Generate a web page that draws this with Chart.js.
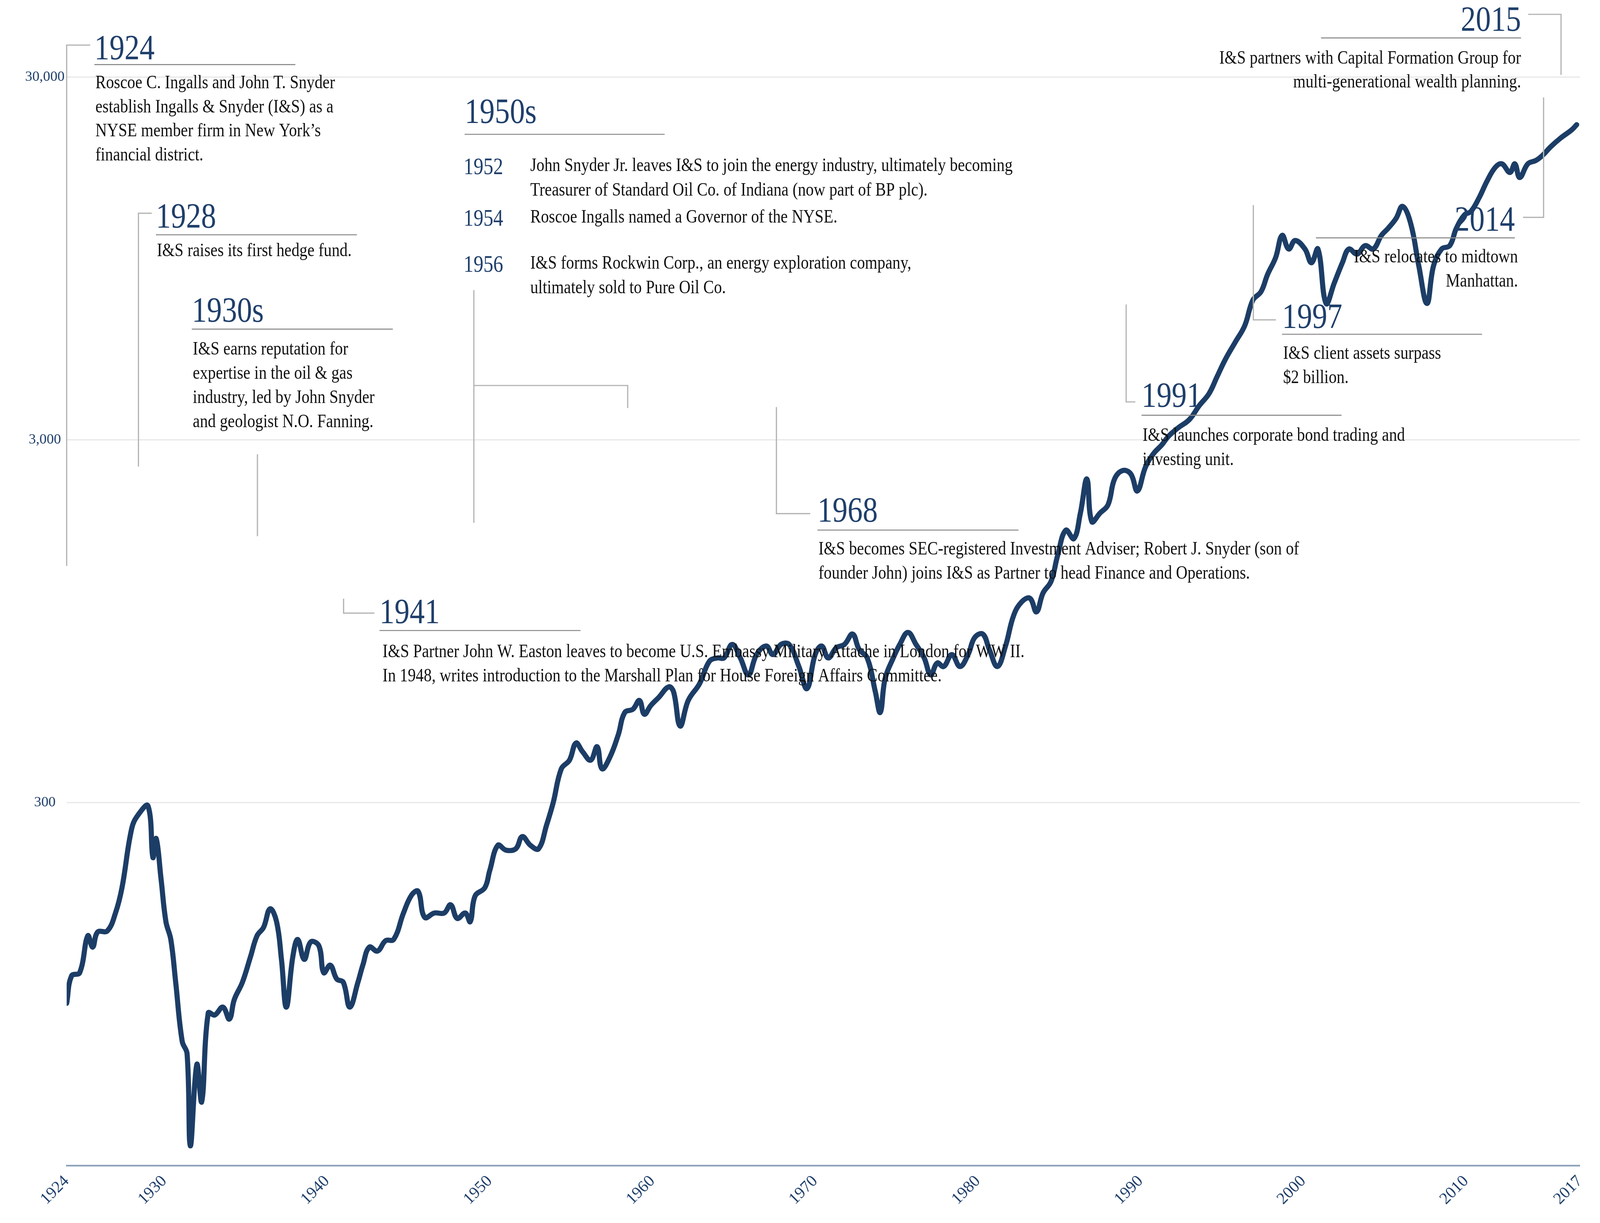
<!DOCTYPE html>
<html>
<head>
<meta charset="utf-8">
<script src="https://cdn.jsdelivr.net/npm/chart.js@4.4.1/dist/chart.umd.min.js"></script>
<style>
html,body{margin:0;padding:0;background:#fff;overflow:hidden;}
#wrap{width:100vw;height:100vh;position:relative;}
</style>
</head>
<body>
<div id="wrap"><canvas id="c"></canvas></div>
<script>
// ---- data ----
var years = [1924.0,1924.3,1924.8,1925.3,1925.6,1925.9,1926.5,1927.0,1927.4,1928.0,1928.4,1929.0,1929.3,1929.5,1929.8,
 1930.1,1930.4,1930.7,1931.1,1931.4,1931.6,1932.0,1932.3,1932.7,1933.1,1933.6,1934.0,1934.3,1934.8,1935.3,1935.7,
 1936.1,1936.5,1936.9,1937.2,1937.5,1937.9,1938.2,1938.6,1939.0,1939.5,1939.8,1940.2,1940.6,1941.0,1941.4,1941.9,
 1942.2,1942.6,1943.1,1943.6,1944.1,1944.7,1945.2,1945.6,1946.0,1946.6,1947.2,1947.6,1948.0,1948.5,1948.8,1949.1,
 1949.7,1950.0,1950.5,1951.0,1951.6,1952.0,1952.5,1953.0,1953.5,1953.9,1954.4,1954.9,1955.3,1955.7,1956.2,1956.6,
 1956.9,1957.4,1957.9,1958.3,1958.8,1959.2,1959.5,1959.9,1960.4,1961.0,1961.3,1961.7,1962.2,1962.9,1963.5,1964.0,
 1964.4,1964.9,1965.4,1965.9,1966.4,1967.0,1967.4,1967.9,1968.4,1969.0,1969.5,1970.0,1970.4,1970.8,1971.3,1971.8,
 1972.3,1972.7,1973.2,1973.7,1974.0,1974.3,1974.8,1975.2,1975.7,1976.2,1976.7,1977.1,1977.5,1977.9,1978.4,1978.9,
 1979.4,1979.8,1980.3,1980.7,1981.2,1981.7,1982.2,1982.7,1983.2,1983.6,1984.0,1984.5,1984.9,1985.4,1985.9,1986.3,
 1986.7,1987.0,1987.5,1988.0,1988.4,1988.9,1989.4,1989.8,1990.3,1990.8,1991.3,1991.7,1992.3,1993.0,1993.6,1994.2,
 1994.7,1995.2,1995.8,1996.4,1996.9,1997.4,1997.8,1998.3,1998.7,1999.1,1999.5,2000.1,2000.5,2000.9,2001.4,2001.9,
 2002.4,2002.8,2003.3,2003.8,2004.3,2004.8,2005.2,2005.7,2006.1,2006.6,2007.1,2007.6,2008.0,2008.5,2009.0,2009.4,
 2009.9,2010.3,2010.8,2011.3,2011.8,2012.2,2012.7,2013.0,2013.3,2013.8,2014.3,2014.7,2015.2,2015.8,2016.5,2016.8];
var values = [84,100,102,129,120,132,133,149,175,255,278,294,212,239,185,
 141,126,96,66,61,34,57,45,79,78,82,76,86,96,113,129,
 136,153,141,111,82,113,126,111,124,121,102,107,98,96,82,96,
 107,120,117,125,126,149,167,171,145,149,149,157,144,149,141,166,
 175,195,229,222,224,242,229,224,261,300,372,393,438,415,393,428,
 372,402,462,532,543,574,526,556,586,626,606,488,574,639,736,752,
 752,819,752,675,768,811,768,819,819,712,619,768,811,752,802,819,
 875,794,752,606,532,660,752,819,884,819,752,675,728,712,768,712,
 768,855,875,794,712,811,985,1074,1098,1007,1134,1223,1439,1691,1603,1884,
 2340,1786,1884,1988,2340,2469,2416,2169,2524,2751,2904,3064,3235,3413,3725,4019,
 4479,4990,5560,6193,7282,7680,8560,9540,10980,10070,10630,10070,9230,10070,7130,8110,
 9230,10070,9750,10290,10070,10980,11470,12230,13200,11840,9040,7130,9040,10070,10290,11470,
 12500,12780,13930,15520,16910,17290,16370,17290,15850,17290,17670,18240,19260,20340,21460,22170];
var xTicks = [1924,1930,1940,1950,1960,1970,1980,1990,2000,2010,2017];
var yTicks = [300,3000,30000];

// ---- layout: the picture was measured at 1560px wide ----
var K = window.innerWidth/1560;
var NAVY = '#1f3f6b', LINE = '#1c3d66', LEAD = '#b5b5b5', RULE = '#8a8a8a';
var SERIF = '"Liberation Serif", "DejaVu Serif", serif';

// annotation blocks: header, header position, rule, leader path, body lines
var notes = [
  {h:'1924', x:92, y:58, rule:[92,288,63], lead:[[65,552],[65,44],[88,44]], body:[93,86,
    ['Roscoe C. Ingalls and John T. Snyder','establish Ingalls & Snyder (I&S) as a','NYSE member firm in New York\u2019s','financial district.']]},
  {h:'1928', x:152, y:222, rule:[152,348,229], lead:[[135,455],[135,208],[148,208]], body:[153,250,
    ['I&S raises its first hedge fund.']]},
  {h:'1930s', x:187, y:314, rule:[187,383,321], lead:[[251,443],[251,523]], body:[188,346,
    ['I&S earns reputation for','expertise in the oil & gas','industry, led by John Snyder','and geologist N.O. Fanning.']]},
  {h:'1950s', x:453, y:120, rule:[453,648,131], lead:[[462,510],[462,283]], body:[517,166,[]]},
  {h:'', x:0, y:0, lead:[[462,376],[612,376],[612,398]], body:[0,0,[]]},
  {h:'1941', x:370, y:608, rule:[370,566,615], lead:[[335,584],[335,598],[365,598]], body:[373,641,
    ['I&S Partner John W. Easton leaves to become U.S. Embassy Military Attache in London for WW II.',
     'In 1948, writes introduction to the Marshall Plan for House Foreign Affairs Committee.']]},
  {h:'1968', x:797, y:509, rule:[797,993,517], lead:[[757,397],[757,501],[790,501]], body:[798,541,
    ['I&S becomes SEC-registered Investment Adviser; Robert J. Snyder (son of',
     'founder John) joins I&S as Partner to head Finance and Operations.']]},
  {h:'1991', x:1113, y:397, rule:[1113,1308,405], lead:[[1098,297],[1098,392],[1107,392]], body:[1114,430,
    ['I&S launches corporate bond trading and','investing unit.']]},
  {h:'1997', x:1250, y:320, rule:[1250,1445,326], lead:[[1222,200],[1222,312],[1244,312]], body:[1251,350,
    ['I&S client assets surpass','$2 billion.']]},
  {h:'2014', x:1477, y:225, right:true, rule:[1283,1477,232], lead:[[1505,95],[1505,212],[1485,212]], body:[1480,256,
    ['I&S relocates to midtown','Manhattan.']]},
  {h:'2015', x:1483, y:30, right:true, rule:[1288,1483,37], lead:[[1490,14],[1522,14],[1522,73]], body:[1483,62,
    ['I&S partners with Capital Formation Group for','multi-generational wealth planning.']]}
];
var fifties = [
  ['1952',170,['John Snyder Jr. leaves I&S to join the energy industry, ultimately becoming','Treasurer of Standard Oil Co. of Indiana (now part of BP plc).']],
  ['1954',220,['Roscoe Ingalls named a Governor of the NYSE.']],
  ['1956',265,['I&S forms Rockwin Corp., an energy exploration company,','ultimately sold to Pure Oil Co.']]
];

function txt(ctx, s, x, y, size, color, right){
    ctx.save();
    ctx.translate(x*K, y*K);
    ctx.scale(0.84, 1);
    ctx.font = (size*K) + 'px ' + SERIF;
    ctx.fillStyle = color;
    ctx.textAlign = right ? 'right' : 'left';
    ctx.textBaseline = 'alphabetic';
    ctx.fillText(s, 0, 0);
    ctx.restore();
}

var notesPlugin = {
    id: 'notes',
    afterDraw: function(chart){
        var ctx = chart.ctx;
        notes.forEach(function(n){
            ctx.save();
            ctx.strokeStyle = LEAD;
            ctx.lineWidth = 1.2*K;
            ctx.beginPath();
            n.lead.forEach(function(p, i){
                if(i == 0) ctx.moveTo(p[0]*K, p[1]*K); else ctx.lineTo(p[0]*K, p[1]*K);
            });
            ctx.stroke();
            if(n.rule){
                ctx.strokeStyle = RULE;
                ctx.lineWidth = 1*K;
                ctx.beginPath();
                ctx.moveTo(n.rule[0]*K, n.rule[2]*K);
                ctx.lineTo(n.rule[1]*K, n.rule[2]*K);
                ctx.stroke();
            }
            ctx.restore();
            if(n.h) txt(ctx, n.h, n.x, n.y, 35, NAVY, n.right);
            n.body[2].forEach(function(s, i){
                txt(ctx, s, n.body[0], n.body[1] + i*23.5, 18.5, '#111', n.right);
            });
        });
        fifties.forEach(function(f){
            txt(ctx, f[0], 452, f[1], 23, NAVY);
            f[2].forEach(function(s, i){
                txt(ctx, s, 517, f[1] - 3 + i*24, 18.5, '#111');
            });
        });
    }
};

new Chart(document.getElementById('c').getContext('2d'), {
    type: 'line',
    data: {
        datasets: [{
            data: years.map(function(y, i){ return {x: y, y: values[i]}; }),
            borderColor: LINE,
            borderWidth: 5*K,
            pointRadius: 0,
            tension: 0.4,
            borderCapStyle: 'round',
            borderJoinStyle: 'round'
        }]
    },
    options: {
        responsive: true,
        maintainAspectRatio: false,
        animation: false,
        layout: {padding: {top: 0, right: 12*K, left: 0, bottom: 0}},
        plugins: {legend: {display: false}, tooltip: {enabled: false}},
        scales: {
            x: {
                type: 'linear', min: 1924, max: 2017,
                afterBuildTicks: function(s){ s.ticks = xTicks.map(function(v){ return {value: v}; }); },
                afterFit: function(s){ s.height = 56*K; },
                grid: {display: false, drawTicks: false},
                border: {color: '#8fa3bb', width: 1.6*K},
                ticks: {
                    color: NAVY, minRotation: 45, maxRotation: 45, padding: 6*K, autoSkip: false,
                    font: {family: SERIF, size: 16*K},
                    callback: function(v){ return String(v); }
                }
            },
            y: {
                type: 'logarithmic', min: 30, max: 45700,
                afterBuildTicks: function(s){ s.ticks = yTicks.map(function(v){ return {value: v}; }); },
                afterFit: function(s){ s.width = 65*K; },
                grid: {color: '#e6e6e6', lineWidth: 1*K, drawTicks: false},
                border: {display: false},
                ticks: {
                    color: NAVY, crossAlign: 'center', padding: 2*K,
                    font: {family: SERIF, size: 14*K},
                    callback: function(v){ return v.toLocaleString('en-US'); }
                }
            }
        }
    },
    plugins: [notesPlugin]
});
</script>
</body>
</html>
